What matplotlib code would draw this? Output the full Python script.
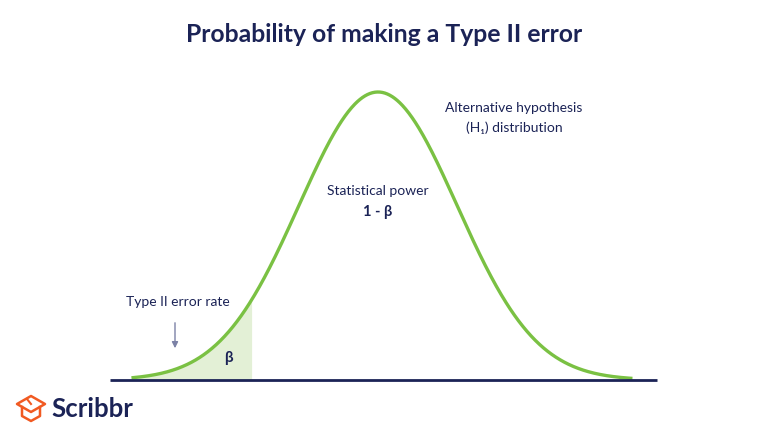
import numpy as np
import matplotlib
matplotlib.use("Agg")
import matplotlib.pyplot as plt
from matplotlib.patches import Polygon

# distribution (x in standard-deviation units)
mean = 0.0
sd = 1.0
cutoff = -1.6          # right edge of the beta area
x_start, x_end = -3.39, 3.53   # extent of the baseline

title = "Probability of making a Type II error"
navy = "#1b2356"
green = "#7ac143"
fill_green = "#e3f0d6"
orange = "#f15a22"

plt.rcParams['font.family'] = ['Lato', 'DejaVu Sans']

fig = plt.figure(figsize=(7.68, 4.32), dpi=100)
ax = fig.add_axes([0, 0, 1, 1])
ax.set_xlim(-378 / 79, (768 - 378) / 79)
ax.set_ylim((380 - 432) / 288, 380 / 288)
ax.axis("off")

x = np.linspace(-3.1, 3.2, 600)
y = np.exp(-0.5 * ((x - mean) / sd) ** 2)

ax.plot([x_start, x_end], [0, 0], color=navy, lw=2.0, solid_capstyle="butt", zorder=3)
xs = x[x <= cutoff]
ax.fill_between(np.append(xs, cutoff), 0,
                np.append(np.exp(-0.5 * ((xs - mean) / sd) ** 2),
                          np.exp(-0.5 * ((cutoff - mean) / sd) ** 2)),
                color=fill_green, lw=0, zorder=1)
ax.plot(x, y, color=green, lw=2.4, zorder=2)

def px(xp, yp):
    return (xp - 378) / 79, (380 - yp) / 288

fig.text(0.5, 1 - 35 / 432, title, ha="center", va="center",
         fontsize=17.8, fontweight="bold", color=navy)

ax.text(*px(514, 108), "Alternative hypothesis", ha="center", va="center",
        fontsize=10, color=navy)
ax.text(*px(514, 128), "(H\u2081) distribution", ha="center", va="center",
        fontsize=10, color=navy)
ax.text(*px(378, 191), "Statistical power", ha="center", va="center",
        fontsize=10, color=navy)
ax.text(*px(378, 212), "1 - \u03b2", ha="center", va="center",
        fontsize=10.5, fontweight="bold", color=navy)
ax.text(*px(178, 302), "Type II error rate", ha="center", va="center",
        fontsize=10, color=navy)
ax.text(*px(228, 358), "\u03b2", ha="center", va="center",
        fontsize=11, fontweight="bold", color=navy)
ax.annotate("", xy=px(175, 351), xytext=px(175, 320),
            arrowprops=dict(arrowstyle="-|>", color="#7c82a6", lw=1.0,
                            mutation_scale=9))

# logo
def fp(xp, yp):
    return xp / 768, 1 - yp / 432

cap = [fp(17, 404), fp(31, 396), fp(45, 404), fp(31, 412)]
fig.patches.append(Polygon(cap, closed=True, fill=False, ec=orange, lw=1.8,
                           transform=fig.transFigure, joinstyle="round"))
base = [fp(22, 407), fp(22, 416), fp(31, 421), fp(40, 416), fp(40, 407)]
fig.lines.append(plt.Line2D([p[0] for p in base], [p[1] for p in base],
                            color=orange, lw=1.8, transform=fig.transFigure,
                            solid_joinstyle="round"))
fig.lines.append(plt.Line2D([fp(31, 404)[0], fp(27, 399)[0]],
                            [fp(31, 404)[1], fp(27, 399)[1]],
                            color=orange, lw=1.5, transform=fig.transFigure))
fig.text(*fp(51, 409), "Scribbr", ha="left", va="center",
         fontsize=18.5, fontweight="bold", color=navy)

fig.savefig("out.png", dpi=100, facecolor="white")
